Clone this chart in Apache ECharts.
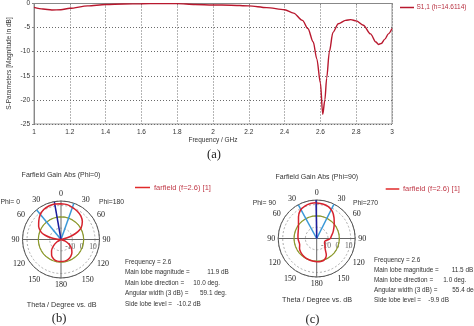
<!DOCTYPE html>
<html>
<head>
<meta charset="utf-8">
<script src="https://cdn.jsdelivr.net/npm/echarts@6/dist/echarts.min.js"></script>
<style>
  html, body { margin: 0; padding: 0; background: #fff; }
  #chart { width: 474px; height: 326px; }
</style>
</head>
<body>
<div id="chart"></div>
<script>
// ---- (a) reflection coefficient S1,1 versus frequency ----
const freqGHz = [1.00, 1.05, 1.10, 1.15, 1.20, 1.30, 1.40, 1.50, 1.60, 1.70, 1.80, 1.90, 2.00, 2.10,
  2.20, 2.30, 2.40, 2.45, 2.50, 2.53, 2.56, 2.58, 2.60, 2.613, 2.625, 2.635, 2.65, 2.67, 2.70,
  2.74, 2.77, 2.80, 2.84, 2.88, 2.91, 2.925, 2.94, 2.96, 2.98, 3.00];
const s11Db = [-0.8, -1.15, -1.35, -1.3, -1.0, -0.5, -0.2, -0.1, -0.05, -0.02, -0.02, -0.2, -0.3, -0.35,
  -0.5, -0.85, -1.3, -2.0, -3.5, -5.2, -8.0, -11.5, -16.5, -23.0, -20.0, -15.5, -10.0, -6.0, -4.2,
  -3.5, -3.35, -3.6, -4.5, -6.3, -8.0, -8.5, -8.3, -7.4, -6.3, -5.2];
const freqTicks = { min: 1, max: 3, step: 0.2 };
const s11Ticks = { min: -25, max: 0, step: 5 };

// ---- (b) farfield gain, Phi = 0 cut (angle measured clockwise from theta = 0) ----
const patAngleB = [0, 10, 20, 30, 40, 50, 60, 65, 70, 75, 80, 90, 100, 110, 120, 130, 140, 150, 160, 170,
  180, 190, 200, 210, 220, 230, 240, 250, 260, 270, 275, 280, 285, 290, 300, 310, 320, 330, 340, 350, 360];
const patGainB = [11.6, 11.3, 10.0, 8.8, 7.2, 4.6, 0.5, -3.5, -9, -15, -20, -20, -20, -16, -12, -8, -5, -2.8, -1.3, -0.6,
  -0.5, -0.6, -1.5, -3.5, -7, -11.5, -16, -20, -20, -20, -17, -11, -5.5, -1.5, 2.8, 5.6, 8.6, 10.5, 11.5, 11.9, 11.6];

// ---- (c) farfield gain, Phi = 90 cut ----
const patAngleC = [0, 10, 20, 30, 40, 50, 60, 70, 80, 90, 100, 110, 120, 130, 140, 150, 160, 170,
  180, 190, 200, 210, 220, 230, 240, 250, 260, 270, 280, 290, 300, 310, 320, 330, 340, 350, 359, 360];
const patGainC = [11.4, 10.9, 10.0, 7.6, 3.8, 0.2, -2.6, -4.8, -6.8, -8, -11, -12.5, -12, -10.5, -8.5, -3, 0, 0.6,
  0.5, 0.2, 0, -0.3, -0.8, -1.5, -2.5, -4, -4, -3.5, -3.2, -2.6, -1.4, 1.0, 5.0, 8.8, 10.5, 11.3, 11.5, 11.4];

// farfield summary values for both cuts: [Phi=0, Phi=90]
const cutNames = ['Phi=0', 'Phi=90'];
const cutSideLabels = [['Phi= 0', 'Phi=180'], ['Phi= 90', 'Phi=270']];
const freqFarfield = 2.6;
const mainLobeMag = [11.9, 11.5];
const mainLobeDir = [10.0, 1.0];
const angularWidth = [59.1, 55.4];
const sideLobeLevel = [-10.2, -9.9];

// radial scale of the polar plots (dB)
const polarMin = -20, polarMax = 14, polarStep = 10;
const radialLabels = [-10, 0, 10];
const refRingDb = 0;

const chart = echarts.init(document.getElementById('chart'), null, { renderer: 'canvas' });

const sansFont = 'Liberation Sans';
const serifFont = 'Liberation Serif';
const polarCenters = [[61, 239.5], [316.7, 238.5]];
const polarRadius = 38.5;

const polarOpt = polarCenters.map(c => ({ center: c, radius: polarRadius }));
const angleAxisOpt = polarCenters.map((c, i) => ({
  polarIndex: i, type: 'value', min: 0, max: 360, interval: 30,
  startAngle: 90, clockwise: true,
  axisLine: { lineStyle: { color: '#555', width: 1 } },
  axisTick: { show: false },
  splitLine: { show: false },
  axisLabel: {
    margin: 3, fontFamily: serifFont, fontSize: 8, color: '#222',
    formatter: v => String(v <= 180 ? v : 360 - v)
  }
}));
const radiusAxisOpt = polarCenters.map((c, i) => ({
  polarIndex: i, type: 'value', min: polarMin, max: polarMax, interval: polarStep,
  axisLine: { show: false }, axisTick: { show: false }, axisLabel: { show: false },
  splitLine: { show: true, lineStyle: { color: '#999', type: [2, 2], width: 0.8 } }
}));

const series = [];
series.push({
  type: 'line', xAxisIndex: 0, yAxisIndex: 0,
  data: freqGHz.map((f, i) => [f, s11Db[i]]),
  showSymbol: false, smooth: 0.3, smoothMonotone: 'x',
  lineStyle: { color: '#b8182e', width: 1.4 }
});

const ringAngles = [];
for (let a = 0; a <= 360; a += 5) ringAngles.push(a);

const patterns = [[patAngleB, patGainB], [patAngleC, patGainC]];
patterns.forEach((p, i) => {
  const base = { type: 'line', coordinateSystem: 'polar', polarIndex: i, showSymbol: false, silent: true };
  // axis cross through the centre
  series.push(Object.assign({}, base, {
    data: [[polarMax, 0], [polarMin, 0], [polarMax, 180]],
    lineStyle: { color: '#666', width: 1 }
  }));
  series.push(Object.assign({}, base, {
    data: [[polarMax, 90], [polarMin, 90], [polarMax, 270]],
    lineStyle: { color: '#666', width: 1 }
  }));
  // reference ring
  series.push(Object.assign({}, base, {
    data: ringAngles.map(a => [refRingDb, a]),
    lineStyle: { color: '#8c9a2a', width: 1.2 }
  }));
  // 3 dB beamwidth limits (main lobe is on the left half)
  const dirAngle = 360 - mainLobeDir[i];
  const half = angularWidth[i] / 2;
  const leftEdge = dirAngle - half;
  const rightEdge = (dirAngle + half) % 360;
  [leftEdge, rightEdge].forEach(a => {
    series.push(Object.assign({}, base, {
      data: [[polarMin, a], [polarMax, a]],
      lineStyle: { color: '#3a98d8', width: 1.5 }
    }));
  });
  // main lobe direction
  series.push(Object.assign({}, base, {
    data: [[polarMin, dirAngle], [polarMax, dirAngle]],
    lineStyle: { color: '#1c1c9c', width: 1.5 }
  }));
  // gain pattern
  series.push(Object.assign({}, base, {
    data: p[0].map((a, k) => [p[1][k], a]),
    smooth: 0.3,
    lineStyle: { color: '#d6232e', width: 1.5 }
  }));
  // radial scale labels
  series.push({
    type: 'scatter', coordinateSystem: 'polar', polarIndex: i, silent: true,
    symbolSize: 0,
    data: radialLabels.map(v => [v, 90]),
    label: {
      show: true, position: 'inside', offset: [-2, 7.5],
      fontFamily: serifFont, fontSize: 7.5, color: '#333',
      formatter: q => String(q.value[0])
    }
  });
});

function txt(x, y, text, o) {
  o = o || {};
  return {
    type: 'text', x: x, y: y, rotation: o.rotation || 0, silent: true,
    style: {
      text: text, fill: o.color || '#333',
      font: (o.size || 7) + 'px "' + (o.family || sansFont) + '"',
      textAlign: o.align || 'left', textVerticalAlign: 'middle'
    }
  };
}
function seg(x1, x2, y, color) {
  return { type: 'line', silent: true, shape: { x1: x1, y1: y, x2: x2, y2: y }, style: { stroke: color, lineWidth: 1.5 } };
}

const graphics = [
  txt(9.5, 63.5, 'S-Parameters [Magnitude in dB]', { rotation: Math.PI / 2, align: 'center', size: 6.5 }),
  txt(213, 140.5, 'Frequency / GHz', { align: 'center', size: 6.5 }),
  seg(400, 414, 7.5, '#b8182e'),
  txt(416.5, 7.5, 'S1,1 (h=14.6114)', { size: 6.5, color: '#b83040' }),
  txt(214, 155, '(a)', { align: 'center', size: 12.5, family: serifFont, color: '#222' }),
  txt(59, 318.5, '(b)', { align: 'center', size: 12.5, family: serifFont, color: '#222' }),
  txt(312.5, 320, '(c)', { align: 'center', size: 12.5, family: serifFont, color: '#222' })
];

// per-cut annotation blocks
const blocks = [
  { title: [61, 175], legLine: [135, 150, 187.5], legText: 154, side: [[20, 202], [99, 202]], theta: [61.7, 305],
    infoX: 125, infoY: [262, 272.5, 283, 293.5, 304], valX: [207.3, 193.3, 200, 176.7] },
  { title: [316.8, 177.5], legLine: [385.7, 399.3, 189], legText: 403, side: [[276, 202.7], [353, 202.7]], theta: [317, 300],
    infoX: 374, infoY: [260, 270, 280, 290, 300], valX: [451.7, 443.3, 452.3, 428.3] }
];
const infoSize = 6.4;
blocks.forEach((b, i) => {
  graphics.push(txt(b.title[0], b.title[1], 'Farfield Gain Abs (' + cutNames[i] + ')', { align: 'center' }));
  graphics.push(seg(b.legLine[0], b.legLine[1], b.legLine[2], '#e02a2a'));
  graphics.push(txt(b.legText, b.legLine[2], 'farfield (f=' + freqFarfield + ') [1]', { color: '#c03a48', size: 7.5 }));
  graphics.push(txt(b.side[0][0], b.side[0][1], cutSideLabels[i][0], { align: 'right', size: 6.8 }));
  graphics.push(txt(b.side[1][0], b.side[1][1], cutSideLabels[i][1], { size: 6.8 }));
  graphics.push(txt(b.theta[0], b.theta[1], 'Theta / Degree vs. dB', { align: 'center', size: 7.2 }));
  const y = b.infoY, s = { size: infoSize };
  graphics.push(txt(b.infoX, y[0], 'Frequency = ' + freqFarfield, s));
  graphics.push(txt(b.infoX, y[1], 'Main lobe magnitude =', s));
  graphics.push(txt(b.valX[0], y[1], mainLobeMag[i].toFixed(1) + ' dB', s));
  graphics.push(txt(b.infoX, y[2], 'Main lobe direction =', s));
  graphics.push(txt(b.valX[1], y[2], mainLobeDir[i].toFixed(1) + ' deg.', s));
  graphics.push(txt(b.infoX, y[3], 'Angular width (3 dB) =', s));
  graphics.push(txt(b.valX[2], y[3], angularWidth[i].toFixed(1) + ' deg.', s));
  graphics.push(txt(b.infoX, y[4], 'Side lobe level =', s));
  graphics.push(txt(b.valX[3], y[4], sideLobeLevel[i].toFixed(1) + ' dB', s));
});

const gridLine = { show: true, lineStyle: { color: '#6a6a6a', type: [1, 2], width: 1 } };
chart.setOption({
  animation: false,
  backgroundColor: '#fff',
  grid: { left: 34, top: 3, width: 358, height: 121, show: true, borderColor: '#999', borderWidth: 1 },
  xAxis: {
    type: 'value', min: freqTicks.min, max: freqTicks.max, interval: freqTicks.step,
    axisLine: { lineStyle: { color: '#888' } },
    axisTick: { show: true, length: 2, lineStyle: { color: '#888' } },
    axisLabel: { margin: 5, fontFamily: sansFont, fontSize: 6.5, color: '#333' },
    splitLine: gridLine
  },
  yAxis: {
    type: 'value', min: s11Ticks.min, max: s11Ticks.max, interval: s11Ticks.step,
    axisLine: { show: true, lineStyle: { color: '#888' } },
    axisTick: { show: true, length: 2, lineStyle: { color: '#888' } },
    axisLabel: { margin: 4, fontFamily: sansFont, fontSize: 6.5, color: '#333' },
    splitLine: gridLine
  },
  polar: polarOpt,
  angleAxis: angleAxisOpt,
  radiusAxis: radiusAxisOpt,
  series: series,
  graphic: graphics
});
</script>
</body>
</html>
